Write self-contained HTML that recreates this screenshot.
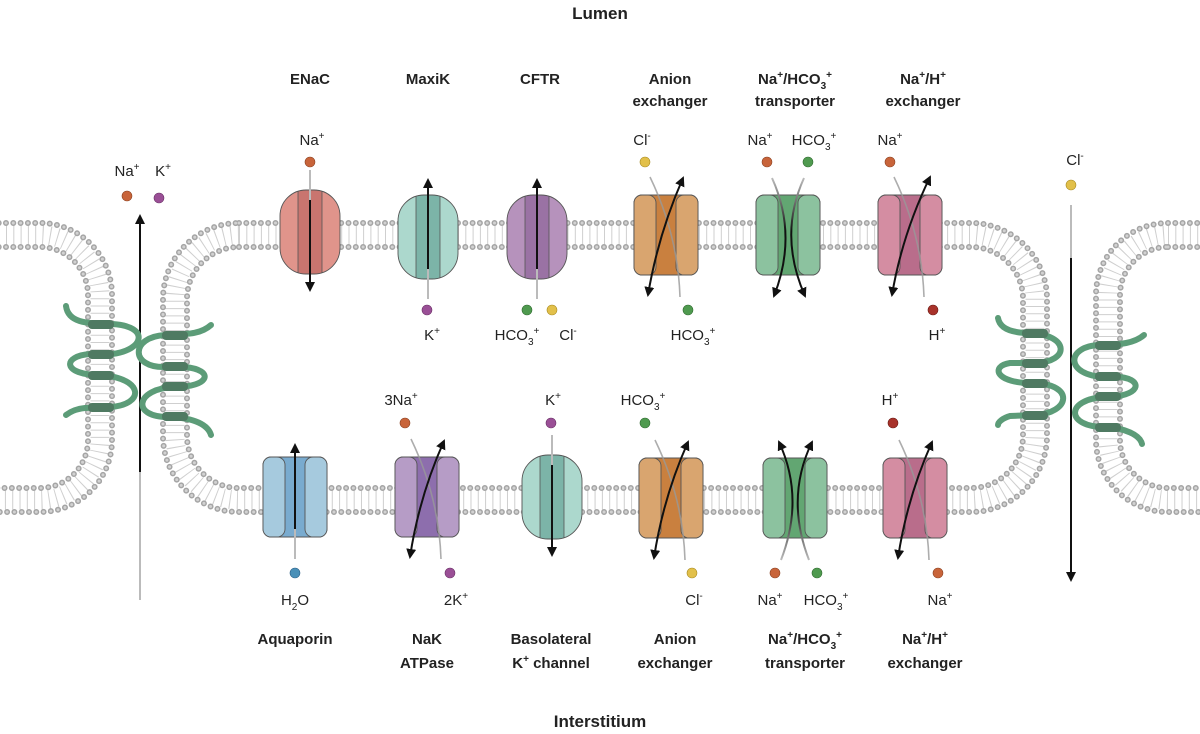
<!DOCTYPE html>
<html><head><meta charset="utf-8"><style>
html,body{margin:0;padding:0;background:#fff;}
svg{display:block;}
text{font-family:"Liberation Sans",sans-serif;}
.t{font-size:15px;font-weight:bold;fill:#222;text-anchor:middle;}
.i{font-size:15px;fill:#222;text-anchor:middle;}
.s{font-size:10px;}
</style></head><body>
<svg width="1200" height="734" viewBox="0 0 1200 734" xmlns="http://www.w3.org/2000/svg">
<defs>
<marker id="ah" viewBox="0 0 10 10" refX="8" refY="5" markerWidth="5" markerHeight="5" orient="auto-start-reverse"><path d="M0,0 L10,5 L0,10 Z" fill="#111"/></marker>
<linearGradient id="gd" x1="0" y1="0" x2="0" y2="1"><stop offset="0" stop-color="#bbb"/><stop offset="0.45" stop-color="#111"/></linearGradient>
<linearGradient id="gu" x1="0" y1="1" x2="0" y2="0"><stop offset="0" stop-color="#bbb"/><stop offset="0.45" stop-color="#111"/></linearGradient>
<clipPath id="pill"><rect x="-30" y="-42" width="60" height="84" rx="26"/></clipPath>
</defs>

<!-- membranes -->
<g fill="none">
 <g stroke="#cfcfcf" stroke-width="19" stroke-dasharray="1 6.3">
  <rect x="175" y="235" width="860" height="265" rx="64"/>
  <rect x="-200" y="235" width="300" height="265" rx="60"/>
  <rect x="1108" y="235" width="300" height="265" rx="60"/>
 </g>
 <g stroke="#a5a5a5" stroke-width="6" stroke-linecap="round" stroke-dasharray="0 7.3">
  <rect x="163" y="223" width="884" height="289" rx="76"/>
  <rect x="187" y="247" width="836" height="241" rx="52"/>
  <rect x="-212" y="223" width="324" height="289" rx="72"/>
  <rect x="-188" y="247" width="276" height="241" rx="48"/>
  <rect x="1096" y="223" width="324" height="289" rx="72"/>
  <rect x="1120" y="247" width="276" height="241" rx="48"/>
 </g>
 <g stroke="#fff" stroke-width="3" stroke-linecap="round" stroke-dasharray="0 7.3" opacity="0.5">
  <rect x="163" y="223" width="884" height="289" rx="76"/>
  <rect x="187" y="247" width="836" height="241" rx="52"/>
  <rect x="-212" y="223" width="324" height="289" rx="72"/>
  <rect x="-188" y="247" width="276" height="241" rx="48"/>
  <rect x="1096" y="223" width="324" height="289" rx="72"/>
  <rect x="1120" y="247" width="276" height="241" rx="48"/>
 </g>
</g>

<!-- paracellular arrows -->
<path d="M140,600 V470" stroke="#bbb" stroke-width="2" fill="none"/>
<path d="M140,472 V216" stroke="#111" stroke-width="2" fill="none" marker-end="url(#ah)"/>
<path d="M1071,205 V260" stroke="#bbb" stroke-width="2" fill="none"/>
<path d="M1071,258 V580" stroke="#111" stroke-width="2" fill="none" marker-end="url(#ah)"/>

<!-- tight junctions -->
<g fill="none" stroke="#5c9c78" stroke-width="6" stroke-linecap="round">
 <path d="M66,306 C68,322 85,324 112,324 C150,326 145,350 112,354 L90,354 C62,356 62,375 100,375 C145,378 145,405 110,407 L85,408 C75,409 70,412 66,415"/>
 <path d="M211,325 C200,335 185,334 165,335 C130,337 130,368 165,367 L185,367 C215,370 210,387 175,387 C135,388 130,418 170,417 C195,418 208,425 211,435"/>
 <path d="M998,318 C1000,330 1015,333 1030,333 C1070,335 1070,362 1035,363 L1010,363 C990,366 995,384 1035,383 C1075,385 1070,413 1035,415 L1010,416 C1003,418 998,422 998,425"/>
 <path d="M1144,335 C1135,343 1120,345 1100,345 C1065,346 1065,376 1105,377 L1120,377 C1145,380 1140,397 1105,397 C1065,399 1065,427 1105,427 C1125,428 1140,435 1142,444"/>
</g>
<g fill="#4f7a62">
 <rect x="88" y="320" width="26" height="9" rx="4"/><rect x="88" y="350" width="26" height="9" rx="4"/><rect x="88" y="371" width="26" height="9" rx="4"/><rect x="88" y="403" width="26" height="9" rx="4"/>
 <rect x="162" y="331" width="26" height="9" rx="4"/><rect x="162" y="362" width="26" height="9" rx="4"/><rect x="162" y="382" width="26" height="9" rx="4"/><rect x="162" y="412" width="26" height="9" rx="4"/>
 <rect x="1022" y="329" width="26" height="9" rx="4"/><rect x="1022" y="359" width="26" height="9" rx="4"/><rect x="1022" y="379" width="26" height="9" rx="4"/><rect x="1022" y="411" width="26" height="9" rx="4"/>
 <rect x="1095" y="341" width="26" height="9" rx="4"/><rect x="1095" y="372" width="26" height="9" rx="4"/><rect x="1095" y="392" width="26" height="9" rx="4"/><rect x="1095" y="423" width="26" height="9" rx="4"/>
</g>

<!-- channels (pill) -->
<g transform="translate(310,232)">
 <rect x="-30" y="-42" width="60" height="84" rx="26" fill="#e0948b"/>
 <rect x="-12" y="-42" width="24" height="84" fill="#c9756f" stroke="#555" stroke-width="0.8" clip-path="url(#pill)"/>
 <rect x="-30" y="-42" width="60" height="84" rx="26" fill="none" stroke="#555" stroke-width="0.9"/>
 <path d="M0,-62 V-30" stroke="#bbb" stroke-width="2"/>
 <path d="M0,-32 V58" stroke="#111" stroke-width="2" fill="none" marker-end="url(#ah)"/>
</g>
<g transform="translate(428,237)">
 <rect x="-30" y="-42" width="60" height="84" rx="26" fill="#acd8cd"/>
 <rect x="-12" y="-42" width="24" height="84" fill="#7cb4a8" stroke="#555" stroke-width="0.8" clip-path="url(#pill)"/>
 <rect x="-30" y="-42" width="60" height="84" rx="26" fill="none" stroke="#555" stroke-width="0.9"/>
 <path d="M0,62 V30" stroke="#bbb" stroke-width="2"/>
 <path d="M0,32 V-57" stroke="#111" stroke-width="2" fill="none" marker-end="url(#ah)"/>
</g>
<g transform="translate(537,237)">
 <rect x="-30" y="-42" width="60" height="84" rx="26" fill="#b692bc"/>
 <rect x="-12" y="-42" width="24" height="84" fill="#9a72a4" stroke="#555" stroke-width="0.8" clip-path="url(#pill)"/>
 <rect x="-30" y="-42" width="60" height="84" rx="26" fill="none" stroke="#555" stroke-width="0.9"/>
 <path d="M0,62 V30" stroke="#bbb" stroke-width="2"/>
 <path d="M0,32 V-57" stroke="#111" stroke-width="2" fill="none" marker-end="url(#ah)"/>
</g>
<g transform="translate(552,497)">
 <rect x="-30" y="-42" width="60" height="84" rx="26" fill="#acd8cd"/>
 <rect x="-12" y="-42" width="24" height="84" fill="#7cb4a8" stroke="#555" stroke-width="0.8" clip-path="url(#pill)"/>
 <rect x="-30" y="-42" width="60" height="84" rx="26" fill="none" stroke="#555" stroke-width="0.9"/>
 <path d="M0,-62 V-30" stroke="#bbb" stroke-width="2"/>
 <path d="M0,-32 V58" stroke="#111" stroke-width="2" fill="none" marker-end="url(#ah)"/>
</g>

<!-- transporters -->
<g transform="translate(666,235)">
 <rect x="-32" y="-40" width="64" height="80" rx="8" fill="#c9803f" stroke="#555" stroke-width="0.9"/>
 <rect x="-32" y="-40" width="22" height="80" rx="8" fill="#d9a56f" stroke="#555" stroke-width="0.9"/>
 <rect x="10" y="-40" width="22" height="80" rx="8" fill="#d9a56f" stroke="#555" stroke-width="0.9"/>
 <path d="M-16,-58 Q12,0 14,62" stroke="#999" stroke-width="1.6" fill="none" opacity="0.8"/>
 <path d="M-18,60 Q-8,0 17,-57" stroke="#111" stroke-width="2" fill="none" marker-start="url(#ah)" marker-end="url(#ah)"/>
</g>
<g transform="translate(788,235)">
 <rect x="-32" y="-40" width="64" height="80" rx="8" fill="#62a672" stroke="#555" stroke-width="0.9"/>
 <rect x="-32" y="-40" width="22" height="80" rx="8" fill="#8cc29f" stroke="#555" stroke-width="0.9"/>
 <rect x="10" y="-40" width="22" height="80" rx="8" fill="#8cc29f" stroke="#555" stroke-width="0.9"/>
 <path d="M-16,-57 Q10,0 -14,61" stroke="url(#gd)" stroke-width="2" fill="none" marker-end="url(#ah)"/>
 <path d="M16,-57 Q-10,0 17,61" stroke="url(#gd)" stroke-width="2" fill="none" marker-end="url(#ah)"/>
</g>
<g transform="translate(910,235)">
 <rect x="-32" y="-40" width="64" height="80" rx="8" fill="#b96d8b" stroke="#555" stroke-width="0.9"/>
 <rect x="-32" y="-40" width="22" height="80" rx="8" fill="#d48da2" stroke="#555" stroke-width="0.9"/>
 <rect x="10" y="-40" width="22" height="80" rx="8" fill="#d48da2" stroke="#555" stroke-width="0.9"/>
 <path d="M-16,-58 Q12,0 14,62" stroke="#999" stroke-width="1.6" fill="none" opacity="0.8"/>
 <path d="M-18,60 Q-8,0 20,-58" stroke="#111" stroke-width="2" fill="none" marker-start="url(#ah)" marker-end="url(#ah)"/>
</g>
<g transform="translate(295,497)">
 <rect x="-32" y="-40" width="64" height="80" rx="8" fill="#79abcf" stroke="#555" stroke-width="0.9"/>
 <rect x="-32" y="-40" width="22" height="80" rx="8" fill="#a6cade" stroke="#555" stroke-width="0.9"/>
 <rect x="10" y="-40" width="22" height="80" rx="8" fill="#a6cade" stroke="#555" stroke-width="0.9"/>
 <path d="M0,62 V30" stroke="#bbb" stroke-width="2"/>
 <path d="M0,32 V-52" stroke="#111" stroke-width="2" fill="none" marker-end="url(#ah)"/>
</g>
<g transform="translate(427,497)">
 <rect x="-32" y="-40" width="64" height="80" rx="8" fill="#8d6ead" stroke="#555" stroke-width="0.9"/>
 <rect x="-32" y="-40" width="22" height="80" rx="8" fill="#b69cc6" stroke="#555" stroke-width="0.9"/>
 <rect x="10" y="-40" width="22" height="80" rx="8" fill="#b69cc6" stroke="#555" stroke-width="0.9"/>
 <path d="M-16,-58 Q12,0 14,62" stroke="#999" stroke-width="1.6" fill="none" opacity="0.8"/>
 <path d="M-17,60 Q-8,0 17,-56" stroke="#111" stroke-width="2" fill="none" marker-start="url(#ah)" marker-end="url(#ah)"/>
</g>
<g transform="translate(671,498)">
 <rect x="-32" y="-40" width="64" height="80" rx="8" fill="#c9803f" stroke="#555" stroke-width="0.9"/>
 <rect x="-32" y="-40" width="22" height="80" rx="8" fill="#d9a56f" stroke="#555" stroke-width="0.9"/>
 <rect x="10" y="-40" width="22" height="80" rx="8" fill="#d9a56f" stroke="#555" stroke-width="0.9"/>
 <path d="M-16,-58 Q12,0 14,62" stroke="#999" stroke-width="1.6" fill="none" opacity="0.8"/>
 <path d="M-17,60 Q-8,0 17,-56" stroke="#111" stroke-width="2" fill="none" marker-start="url(#ah)" marker-end="url(#ah)"/>
</g>
<g transform="translate(795,498)">
 <rect x="-32" y="-40" width="64" height="80" rx="8" fill="#62a672" stroke="#555" stroke-width="0.9"/>
 <rect x="-32" y="-40" width="22" height="80" rx="8" fill="#8cc29f" stroke="#555" stroke-width="0.9"/>
 <rect x="10" y="-40" width="22" height="80" rx="8" fill="#8cc29f" stroke="#555" stroke-width="0.9"/>
 <path d="M-14,62 Q10,0 -16,-56" stroke="url(#gu)" stroke-width="2" fill="none" marker-end="url(#ah)"/>
 <path d="M14,62 Q-10,0 17,-56" stroke="url(#gu)" stroke-width="2" fill="none" marker-end="url(#ah)"/>
</g>
<g transform="translate(915,498)">
 <rect x="-32" y="-40" width="64" height="80" rx="8" fill="#b96d8b" stroke="#555" stroke-width="0.9"/>
 <rect x="-32" y="-40" width="22" height="80" rx="8" fill="#d48da2" stroke="#555" stroke-width="0.9"/>
 <rect x="10" y="-40" width="22" height="80" rx="8" fill="#d48da2" stroke="#555" stroke-width="0.9"/>
 <path d="M-16,-58 Q12,0 14,62" stroke="#999" stroke-width="1.6" fill="none" opacity="0.8"/>
 <path d="M-17,60 Q-8,0 17,-56" stroke="#111" stroke-width="2" fill="none" marker-start="url(#ah)" marker-end="url(#ah)"/>
</g>

<!-- ions -->
<g stroke-width="0.6">
 <g fill="#c8643a" stroke="#8a4020">
  <circle cx="127" cy="196" r="5"/><circle cx="310" cy="162" r="5"/><circle cx="767" cy="162" r="5"/><circle cx="890" cy="162" r="5"/>
  <circle cx="405" cy="423" r="5"/><circle cx="775" cy="573" r="5"/><circle cx="938" cy="573" r="5"/>
 </g>
 <g fill="#9a4f96" stroke="#6a3066">
  <circle cx="159" cy="198" r="5"/><circle cx="427" cy="310" r="5"/><circle cx="551" cy="423" r="5"/><circle cx="450" cy="573" r="5"/>
 </g>
 <g fill="#4f9a4f" stroke="#2f6a2f">
  <circle cx="527" cy="310" r="5"/><circle cx="808" cy="162" r="5"/><circle cx="688" cy="310" r="5"/><circle cx="645" cy="423" r="5"/><circle cx="817" cy="573" r="5"/>
 </g>
 <g fill="#e2c04a" stroke="#a88a20">
  <circle cx="552" cy="310" r="5"/><circle cx="645" cy="162" r="5"/><circle cx="1071" cy="185" r="5"/><circle cx="692" cy="573" r="5"/>
 </g>
 <g fill="#a8322a" stroke="#6a1a14">
  <circle cx="933" cy="310" r="5"/><circle cx="893" cy="423" r="5"/>
 </g>
 <g fill="#4a90b8" stroke="#2a6088">
  <circle cx="295" cy="573" r="5"/>
 </g>
</g>

<!-- titles -->
<text x="600" y="19" class="t" style="font-size:17px">Lumen</text>
<text x="600" y="727" class="t" style="font-size:17px">Interstitium</text>

<text x="310" y="84" class="t">ENaC</text>
<text x="428" y="84" class="t">MaxiK</text>
<text x="540" y="84" class="t">CFTR</text>
<text x="670" y="84" class="t">Anion</text><text x="670" y="106" class="t">exchanger</text>
<text x="795" y="84" class="t">Na<tspan class="s" dy="-6">+</tspan><tspan dy="6">/HCO</tspan><tspan class="s" dy="5">3</tspan><tspan class="s" dy="-11">+</tspan></text><text x="795" y="106" class="t">transporter</text>
<text x="923" y="84" class="t">Na<tspan class="s" dy="-6">+</tspan><tspan dy="6">/H</tspan><tspan class="s" dy="-6">+</tspan></text><text x="923" y="106" class="t">exchanger</text>

<text x="295" y="644" class="t">Aquaporin</text>
<text x="427" y="644" class="t">NaK</text><text x="427" y="668" class="t">ATPase</text>
<text x="551" y="644" class="t">Basolateral</text><text x="551" y="668" class="t">K<tspan class="s" dy="-6">+</tspan><tspan dy="6"> channel</tspan></text>
<text x="675" y="644" class="t">Anion</text><text x="675" y="668" class="t">exchanger</text>
<text x="805" y="644" class="t">Na<tspan class="s" dy="-6">+</tspan><tspan dy="6">/HCO</tspan><tspan class="s" dy="5">3</tspan><tspan class="s" dy="-11">+</tspan></text><text x="805" y="668" class="t">transporter</text>
<text x="925" y="644" class="t">Na<tspan class="s" dy="-6">+</tspan><tspan dy="6">/H</tspan><tspan class="s" dy="-6">+</tspan></text><text x="925" y="668" class="t">exchanger</text>

<!-- ion labels -->
<text x="127" y="176" class="i">Na<tspan class="s" dy="-6">+</tspan></text>
<text x="163" y="176" class="i">K<tspan class="s" dy="-6">+</tspan></text>
<text x="312" y="145" class="i">Na<tspan class="s" dy="-6">+</tspan></text>
<text x="432" y="340" class="i">K<tspan class="s" dy="-6">+</tspan></text>
<text x="517" y="340" class="i">HCO<tspan class="s" dy="5">3</tspan><tspan class="s" dy="-11">+</tspan></text>
<text x="568" y="340" class="i">Cl<tspan class="s" dy="-6">-</tspan></text>
<text x="642" y="145" class="i">Cl<tspan class="s" dy="-6">-</tspan></text>
<text x="693" y="340" class="i">HCO<tspan class="s" dy="5">3</tspan><tspan class="s" dy="-11">+</tspan></text>
<text x="760" y="145" class="i">Na<tspan class="s" dy="-6">+</tspan></text>
<text x="814" y="145" class="i">HCO<tspan class="s" dy="5">3</tspan><tspan class="s" dy="-11">+</tspan></text>
<text x="890" y="145" class="i">Na<tspan class="s" dy="-6">+</tspan></text>
<text x="937" y="340" class="i">H<tspan class="s" dy="-6">+</tspan></text>
<text x="1075" y="165" class="i">Cl<tspan class="s" dy="-6">-</tspan></text>

<text x="401" y="405" class="i">3Na<tspan class="s" dy="-6">+</tspan></text>
<text x="553" y="405" class="i">K<tspan class="s" dy="-6">+</tspan></text>
<text x="643" y="405" class="i">HCO<tspan class="s" dy="5">3</tspan><tspan class="s" dy="-11">+</tspan></text>
<text x="890" y="405" class="i">H<tspan class="s" dy="-6">+</tspan></text>
<text x="295" y="605" class="i">H<tspan class="s" dy="5">2</tspan><tspan dy="-5">O</tspan></text>
<text x="456" y="605" class="i">2K<tspan class="s" dy="-6">+</tspan></text>
<text x="694" y="605" class="i">Cl<tspan class="s" dy="-6">-</tspan></text>
<text x="770" y="605" class="i">Na<tspan class="s" dy="-6">+</tspan></text>
<text x="826" y="605" class="i">HCO<tspan class="s" dy="5">3</tspan><tspan class="s" dy="-11">+</tspan></text>
<text x="940" y="605" class="i">Na<tspan class="s" dy="-6">+</tspan></text>
</svg>
</body></html>
